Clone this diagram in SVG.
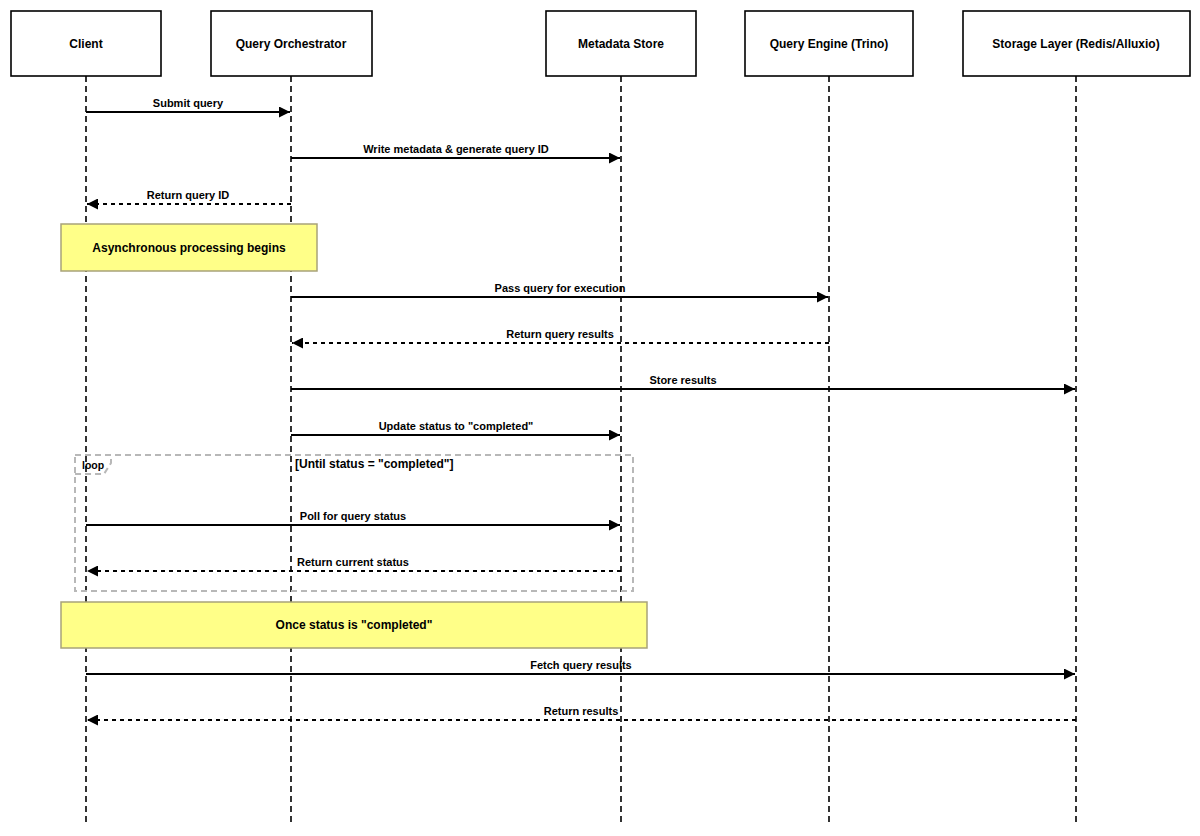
<svg xmlns="http://www.w3.org/2000/svg" width="1200" height="836" viewBox="0 0 1200 836">
<style>
text{font-family:"Liberation Sans",Arial,sans-serif;font-weight:bold;fill:#000}
.actor{fill:#fff;stroke:#000;stroke-width:1.6}
.atext{font-size:12px;text-anchor:middle;dominant-baseline:central}
.life{stroke:#000;stroke-width:1.6;stroke-dasharray:6 4;fill:none}
.msg{stroke:#000;stroke-width:2;fill:none}
.dash{stroke-dasharray:4 4}
.mtext{font-size:11px;text-anchor:middle}
.note{fill:#ffff88;stroke:#a8a27a;stroke-width:1.5}
.ntext{font-size:12px;text-anchor:middle;dominant-baseline:central}
.loop{fill:none;stroke:#b8b8b8;stroke-width:2;stroke-dasharray:6 4}
</style>
<defs>
<marker id="ah" viewBox="0 0 11 11" refX="11" refY="5.5" markerWidth="11" markerHeight="11" markerUnits="userSpaceOnUse" orient="auto">
<path d="M0,0 L11,5.5 L0,11 z" fill="#000"/>
</marker>
</defs>
<g id="lifelines">
<line class="life" x1="86" y1="76" x2="86" y2="826"/>
<line class="life" x1="291" y1="76" x2="291" y2="826"/>
<line class="life" x1="621" y1="76" x2="621" y2="826"/>
<line class="life" x1="829" y1="76" x2="829" y2="826"/>
<line class="life" x1="1076" y1="76" x2="1076" y2="826"/>
</g>
<g id="client"><rect class="actor" x="11" y="11" width="150" height="65"/><text class="atext" x="86" y="44">Client</text></g>
<g id="orchestrator"><rect class="actor" x="211" y="11" width="161" height="65"/><text class="atext" x="291" y="44">Query Orchestrator</text></g>
<g id="metadata"><rect class="actor" x="546" y="11" width="150" height="65"/><text class="atext" x="621" y="44">Metadata Store</text></g>
<g id="engine"><rect class="actor" x="745" y="11" width="168" height="65"/><text class="atext" x="829" y="44">Query Engine (Trino)</text></g>
<g id="storage"><rect class="actor" x="963" y="11" width="227" height="65"/><text class="atext" x="1076" y="44">Storage Layer (Redis/Alluxio)</text></g>
<g id="note1"><rect class="note" x="61" y="224" width="256" height="47"/><text class="ntext" x="189" y="248">Asynchronous processing begins</text></g>
<g id="loop">
<rect class="loop" x="75" y="455" width="558" height="136"/>
<path class="loop" d="M75,455 L111,455 L111,463 L104,474 L75,474"/>
<text x="82" y="469" font-size="10.5px">loop</text>
<text x="295" y="468" font-size="12px">[Until status = "completed"]</text>
</g>
<g id="note2"><rect class="note" x="61" y="602" width="586" height="46"/><text class="ntext" x="354" y="625">Once status is "completed"</text></g>
<g id="connectors">
<line class="msg" x1="86" y1="112" x2="290" y2="112" marker-end="url(#ah)"/>
<text class="mtext" x="188" y="107">Submit query</text>
<line class="msg" x1="291" y1="158" x2="620" y2="158" marker-end="url(#ah)"/>
<text class="mtext" x="456" y="153">Write metadata &amp; generate query ID</text>
<line class="msg dash" x1="291" y1="204" x2="87" y2="204" marker-end="url(#ah)"/>
<text class="mtext" x="188" y="199">Return query ID</text>
<line class="msg" x1="291" y1="297" x2="828" y2="297" marker-end="url(#ah)"/>
<text class="mtext" x="560" y="292">Pass query for execution</text>
<line class="msg dash" x1="829" y1="343" x2="292" y2="343" marker-end="url(#ah)"/>
<text class="mtext" x="560" y="338">Return query results</text>
<line class="msg" x1="291" y1="389" x2="1075" y2="389" marker-end="url(#ah)"/>
<text class="mtext" x="683" y="384">Store results</text>
<line class="msg" x1="291" y1="435" x2="620" y2="435" marker-end="url(#ah)"/>
<text class="mtext" x="456" y="430">Update status to "completed"</text>
<line class="msg" x1="86" y1="525" x2="620" y2="525" marker-end="url(#ah)"/>
<text class="mtext" x="353" y="520">Poll for query status</text>
<line class="msg dash" x1="621" y1="571" x2="87" y2="571" marker-end="url(#ah)"/>
<text class="mtext" x="353" y="566">Return current status</text>
<line class="msg" x1="86" y1="674" x2="1075" y2="674" marker-end="url(#ah)"/>
<text class="mtext" x="581" y="669">Fetch query results</text>
<line class="msg dash" x1="1076" y1="720" x2="87" y2="720" marker-end="url(#ah)"/>
<text class="mtext" x="581" y="715">Return results</text>
</g>
</svg>
